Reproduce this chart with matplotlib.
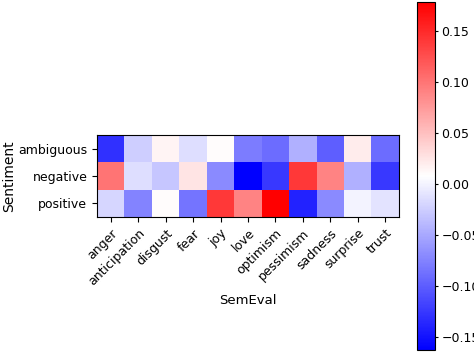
import matplotlib
matplotlib.use("Agg")
import matplotlib.pyplot as plt
import numpy as np

emotions = ["anger", "anticipation", "disgust", "fear", "joy", "love",
            "optimism", "pessimism", "sadness", "surprise", "trust"]
sentiments = ["ambiguous", "negative", "positive"]

ambiguous = [-0.13, -0.025, 0.015, -0.015, 0.01, -0.08, -0.09, -0.045, -0.10, 0.02, -0.09]
negative = [0.10, -0.015, -0.03, 0.025, -0.07, -0.163, -0.125, 0.14, 0.09, -0.045, -0.125]
positive = [-0.02, -0.075, 0.01, -0.085, 0.14, 0.09, 0.178, -0.14, -0.07, 0.0, -0.01]

data = np.array([ambiguous, negative, positive])

fig = plt.figure(figsize=(4.74, 3.52), dpi=100)
ax = fig.add_axes([97 / 474, (352 - 217) / 352, 302 / 474, 82 / 352])
im = ax.imshow(data, cmap="bwr", aspect="auto")
ax.set_xticks(np.arange(len(emotions)))
ax.set_xticklabels(emotions, rotation=45, ha="right", rotation_mode="anchor", fontsize=9)
ax.set_yticks(np.arange(len(sentiments)))
ax.set_yticklabels(sentiments, fontsize=9)
ax.set_xlabel("SemEval", fontsize=9.5)
ax.set_ylabel("Sentiment", fontsize=10, labelpad=1.5)

cax = fig.add_axes([417 / 474, 2 / 352, 18 / 474, 348 / 352])
cb = fig.colorbar(im, cax=cax)
cb.set_ticks([-0.15, -0.10, -0.05, 0.0, 0.05, 0.10, 0.15])
cb.ax.tick_params(labelsize=9, length=2.5, pad=2)

fig.savefig("out.png", dpi=100)
